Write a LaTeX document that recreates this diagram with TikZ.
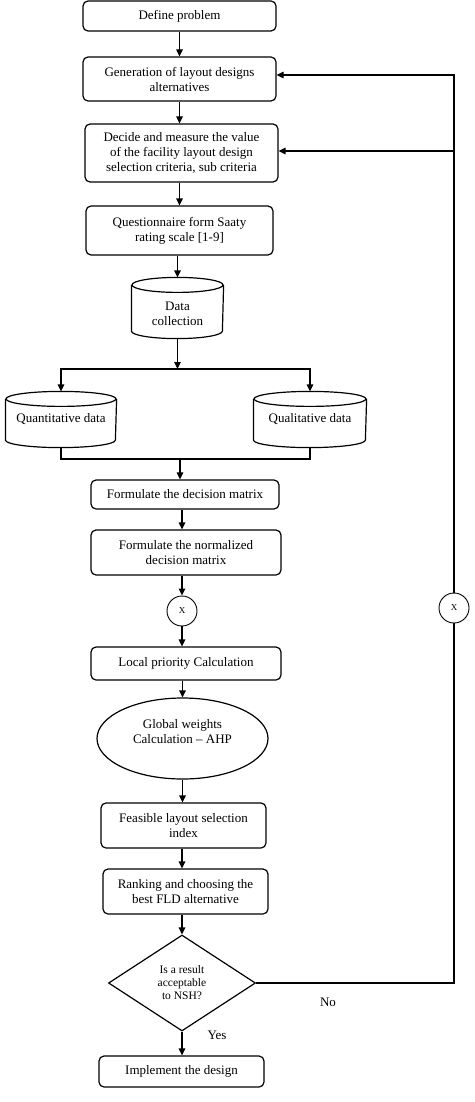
\documentclass[tikz,border=0pt]{standalone}
\usepackage{fontspec}
\setmainfont{Liberation Serif}
\usetikzlibrary{shapes.geometric,arrows.meta}
\newcommand{\mainfs}{\fontsize{13}{15}\selectfont}
\newcommand{\smallfs}{\fontsize{11.5}{13}\selectfont}
\newcommand{\drawcyl}[3]{%
  \draw ([yshift=-#3]#1.north) ellipse [x radius=#2, y radius=#3];
  \draw ([yshift=-#3]#1.north west) -- ([yshift=#3]#1.south west)
    arc [start angle=180, end angle=360, x radius=#2, y radius=#3]
    -- ([yshift=-#3]#1.north east);
}
\begin{document}
\begin{tikzpicture}[x=1pt,y=-1pt,
  line width=1.2pt,
  box/.style={draw, rounded corners=5pt, align=center, inner sep=0pt, font=\mainfs},
  cylbox/.style={inner sep=0pt, font=\mainfs, align=center},
  circ/.style={draw, circle, line width=0.9pt, minimum size=30pt, inner sep=0pt, font=\fontsize{9}{10}\selectfont},
  lbl/.style={font=\mainfs, inner sep=0pt},
  arr/.style={-{Triangle[length=7pt,width=6.5pt]}}]
\useasboundingbox[fill=white] (0,0) rectangle (474,1102);

\node[box, minimum width=193pt, minimum height=30pt] (def) at (179.5,16) {Define problem};
\node[box, minimum width=193pt, minimum height=44pt] (gen) at (179.5,79) {Generation of layout designs\\alternatives};
\node[box, minimum width=193pt, minimum height=58pt] (dec) at (181.5,153) {Decide and measure the value\\of the facility layout design\\selection criteria, sub criteria};
\node[box, minimum width=187pt, minimum height=49pt] (que) at (179.5,230.5) {Questionnaire form Saaty\\rating scale [1-9]};
\node[cylbox, minimum width=91pt, minimum height=60pt,
  label={[font=\mainfs, align=center, yshift=-6pt]center:Data\\collection}] (dc) at (177.5,308) {};
\node[cylbox, minimum width=110pt, minimum height=55pt] (qn) at (61,419.5) {Quantitative data};
\node[cylbox, minimum width=112pt, minimum height=55pt] (ql) at (310,419.5) {Qualitative data};
\node[box, minimum width=188pt, minimum height=29pt] (fdm) at (185,494.5) {Formulate the decision matrix};
\node[box, minimum width=190pt, minimum height=45pt] (fnd) at (186,552.5) {Formulate the normalized\\decision matrix};
\node[circ] (x1) at (182,611) {X};
\node[box, minimum width=190pt, minimum height=33pt] (loc) at (186,663.5) {Local priority Calculation};
\node[draw, ellipse, minimum width=171pt, minimum height=81pt, inner sep=0pt,
  label={[font=\mainfs, align=center, yshift=7pt]center:Global weights\\Calculation -- AHP}] (glo) at (182.5,738.5) {};
\node[box, minimum width=165pt, minimum height=45pt] (fea) at (183.5,825.5) {Feasible layout selection\\index};
\node[box, minimum width=165pt, minimum height=45pt] (ran) at (185.5,891.5) {Ranking and choosing the\\best FLD alternative};
\node[draw, diamond, minimum width=147pt, minimum height=96pt, inner sep=0pt, aspect=1.53,
  font=\smallfs, align=center] (dia) at (182,983) {Is a result\\acceptable\\to NSH?};
\node[box, minimum width=165pt, minimum height=31pt] (imp) at (181.5,1071.5) {Implement the design};
\node[circ] (x2) at (454,608) {X};
\node[lbl] (no) at (328,1002) {No};
\node[lbl] (yes) at (217,1035) {Yes};

\drawcyl{dc}{45.5pt}{7.5pt}
\drawcyl{qn}{55pt}{7.5pt}
\drawcyl{ql}{56pt}{7.5pt}

\draw[arr] (def.south) -- (def.south |- gen.north);
\draw[arr] (gen.south) -- (gen.south |- dec.north);
\draw[arr] (que.north |- dec.south) -- (que.north);
\draw[arr] (dc.north |- que.south) -- (dc.north);
\coordinate (split) at (178,369);
\draw[arr] (dc.south) -- (dc.south |- split);
\draw[arr] (dc.south |- split) -| (qn.north);
\draw[arr] (dc.south |- split) -| (ql.north);
\coordinate (merge) at (180,459);
\draw (qn.south) |- (merge) -| (ql.south);
\draw[arr] (merge) -- (merge |- fdm.north);
\draw[arr] (x1.north |- fdm.south) -- (x1.north |- fnd.north);
\draw[arr] (x1.north |- fnd.south) -- (x1.north);
\draw[arr] (x1.south) -- (x1.south |- loc.north);
\draw[arr] (glo.north |- loc.south) -- (glo.north);
\draw[arr] (glo.south) -- (glo.south |- fea.north);
\draw[arr] (dia.north |- fea.south) -- (dia.north |- ran.north);
\draw[arr] (dia.north |- ran.south) -- (dia.north);
\draw[arr] (dia.south) -- (dia.south |- imp.north);

\coordinate (genin) at ([yshift=4pt]gen.east);
\coordinate (decin) at ([yshift=2pt]dec.east);
\draw (dia.east) -| (x2.south);
\draw[arr] (x2.north) |- (genin);
\draw[arr] (x2.north |- decin) -- (decin);
\end{tikzpicture}
\end{document}
